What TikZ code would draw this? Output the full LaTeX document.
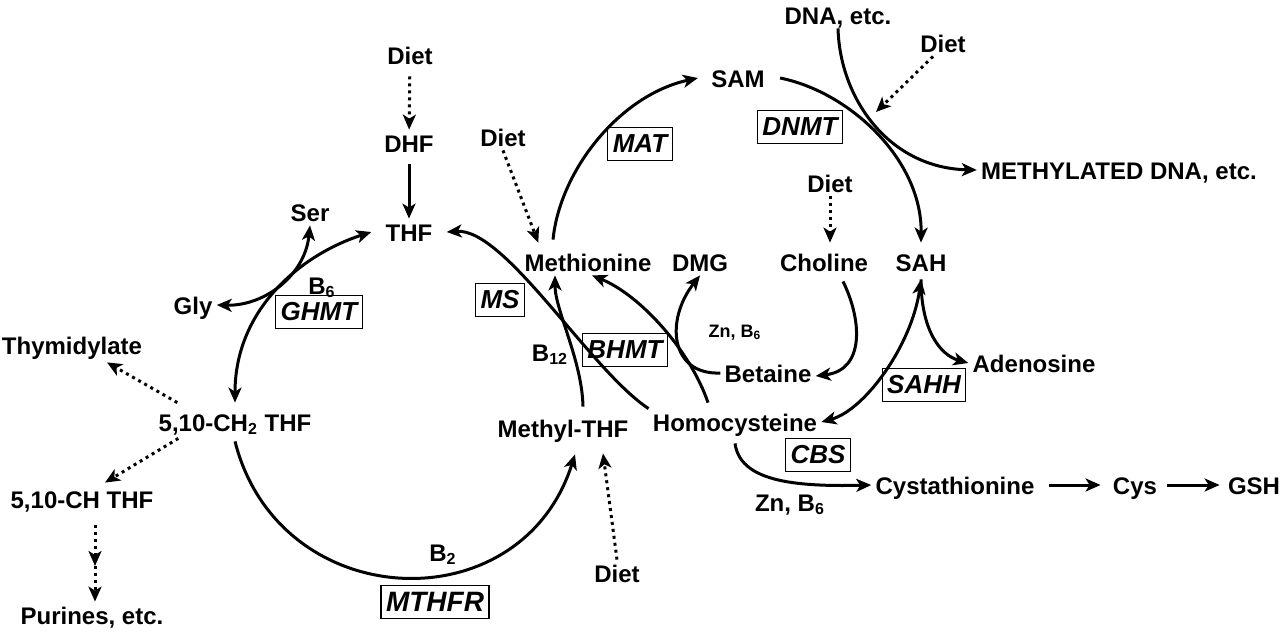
\documentclass[tikz,border=0pt]{standalone}
\usepackage{fontspec}
\setmainfont{Liberation Sans}
\usetikzlibrary{arrows.meta}

\begin{document}
\begin{tikzpicture}[x=0.5pt, y=-0.5pt,
        >={Stealth[length=7.5pt, width=6.5pt, inset=2pt]},
        lbl/.style={font=\fontsize{12}{14}\selectfont\bfseries, inner sep=2pt, text height=9pt, text depth=0pt},
        small/.style={lbl, font=\fontsize{9}{11}\selectfont\bfseries},
        enz/.style={draw, line width=0.6pt, font=\fontsize{13}{15}\selectfont\bfseries\itshape, inner xsep=2.5pt, inner ysep=0pt, minimum height=16.5pt},
        flow/.style={line width=1.5pt, ->},
        diet/.style={flow, dash pattern=on 1.5pt off 2pt}]
        \useasboundingbox (0,0) rectangle (1280,633);

        % Folate Cycle
        \node[lbl] at (410,55) (dietA) {Diet};
        \node[lbl] at (409,143) (dhf) {DHF};
        \node[lbl] at (409,232) (thf) {THF};
        \node[lbl] at (310,212) (ser) {Ser};
        \node[lbl] at (193,305) (gly) {Gly};
        \node[lbl] at (322,285) (bsix) {B\textsubscript{6}};
        \node[enz] at (319,312) (ghmt) {GHMT};
        \node[lbl] at (72,345) (thym) {Thymidylate};
        \node[lbl] at (235,422) (chtwo) {5,10-CH\textsubscript{2} THF};
        \node[lbl] at (82,499) (chthf) {5,10-CH THF};
        \node[lbl] at (92,615) (purines) {Purines, etc.};
        \node[lbl] at (443,552) (btwo) {B\textsubscript{2}};
        \node[enz, font=\fontsize{14}{16}\selectfont\bfseries\itshape] at (435,602) (mthfr) {MTHFR};
        \node[lbl] at (563,428) (methylthf) {Methyl-THF};
        \node[lbl] at (617,573) (dietD) {Diet};

        \draw[diet, shorten <=4pt] (dietA) -- (dhf);
        \draw[flow, shorten <=4pt] (dhf) -- (thf);
        \draw[flow, <->] (gly.east) .. controls (265,306) and (305,275) .. (ser.south);
        \draw[flow, <->] ([xshift=-5pt]thf.west) .. controls (300,255) and (235,310) .. ([yshift=3pt]chtwo.north);
        \draw[diet] ([shift={(23,-6)}]chtwo.north west) -- ([shift={(35,4)}]thym.south);
        \draw[diet] ([shift={(24,3)}]chtwo.south west) -- ([shift={(23,-3)}]chthf.north);
        \coordinate (purmid) at (95,566);
        \draw[diet] ([shift={(13,13)}]chthf.south) -- (purmid);
        \draw[diet] (purmid) -- ([xshift=1.5pt]purines.north);
        \draw[flow] ([yshift=-3pt]chtwo.south) .. controls (279,615) and (521,625) .. ([shift={(12,13)}]methylthf.south);
        \draw[diet] (dietD.north) -- ([shift={(40,12)}]methylthf.south);

        % Methionine Cycle
        \node[lbl] at (588,262) (met) {Methionine};
        \node[lbl] at (503,137) (dietB) {Diet};
        \node[enz] at (500,300) (ms) {MS};
        \node[lbl] at (550,352) (btwelve) {B\textsubscript{12}};
        \node[enz] at (625,350) (bhmt) {BHMT};
        \node[lbl] at (700,262) (dmg) {DMG};
        \node[small] at (735,328) (znA) {Zn, B\textsubscript{6}};
        \node[lbl] at (768,373) (betaine) {Betaine};
        \node[lbl] at (735,422) (hcy) {Homocysteine};
        \node[lbl] at (738,78) (sam) {SAM};
        \node[enz] at (640,144) (mat) {MAT};

        \draw[flow] (hcy.north west) .. controls (590,370) and (505,228) .. ([xshift=5pt]thf.east);
        \draw[flow] ([shift={(20,-8)}]methylthf.north) .. controls (582,360) and (555,310) .. ([xshift=-16.5pt]met.south);
        \draw[flow] ([shift={(-27,-6)}]hcy.north) .. controls (690,350) and (640,295) .. ([xshift=2pt]met.south);
        \draw[flow] (betaine.west) .. controls (670,375) and (665,320) .. (dmg.south);
        \draw[diet] (dietB.south) -- ([shift={(18,-6)}]met.north west);
        \draw[flow] ([shift={(-35,-9)}]met.north) .. controls (560,170) and (620,95) .. ([xshift=-4.5pt]sam.west);

        % Methylation
        \node[enz] at (800,127) (dnmt) {DNMT};
        \node[lbl] at (838,15) (dna) {DNA, etc.};
        \node[lbl] at (943,43) (dietE) {Diet};
        \node[lbl] at (1119,170) (methdna) {METHYLATED DNA, etc.};
        \node[lbl] at (830,183) (dietC) {Diet};
        \node[lbl] at (824,262) (choline) {Choline};
        \node[lbl] at (921,262) (sah) {SAH};
        \node[lbl] at (1034,363) (ado) {Adenosine};
        \node[enz] at (924,385) (sahh) {SAHH};

        \draw[flow] ([xshift=5.5pt]sam.east) .. controls (850,92) and (922,160) .. ([yshift=3pt]sah.north);
        \draw[flow] (dna.south) .. controls (840,100) and (890,168) .. (methdna.west);
        \coordinate (dnmtin) at (876,112);
        \draw[diet] ([xshift=-5pt]dietE.south) -- (dnmtin);
        \draw[diet, shorten >=3pt] (dietC.south) -- (dietC.south |- choline.north);
        \draw[flow] ([shift={(19,6)}]choline.south) .. controls (862,320) and (865,370) .. ([yshift=-1.5pt]betaine.east);
        \draw[flow] ([yshift=-2pt]sah.south) .. controls (921,330) and (940,355) .. (ado.west);
        \draw[flow, <->] (hcy.east) .. controls (865,410) and (912,345) .. ([yshift=-2pt]sah.south);

        % Transsulfuration
        \node[enz] at (818,455) (cbs) {CBS};
        \node[lbl] at (955,485) (cysta) {Cystathionine};
        \node[lbl] at (1135,485) (cys) {Cys};
        \node[lbl] at (1254,485) (gsh) {GSH};
        \node[lbl] at (790,502) (znB) {Zn, B\textsubscript{6}};

        \draw[flow] ([yshift=-4pt]hcy.south) .. controls (740,480) and (790,487) .. (cysta.west);
        \draw[flow, shorten <=5pt, shorten >=4pt] (cysta) -- (cys);
        \draw[flow, shorten <=3pt, shorten >=2pt] (cys) -- (gsh);

\end{tikzpicture}
\end{document}
